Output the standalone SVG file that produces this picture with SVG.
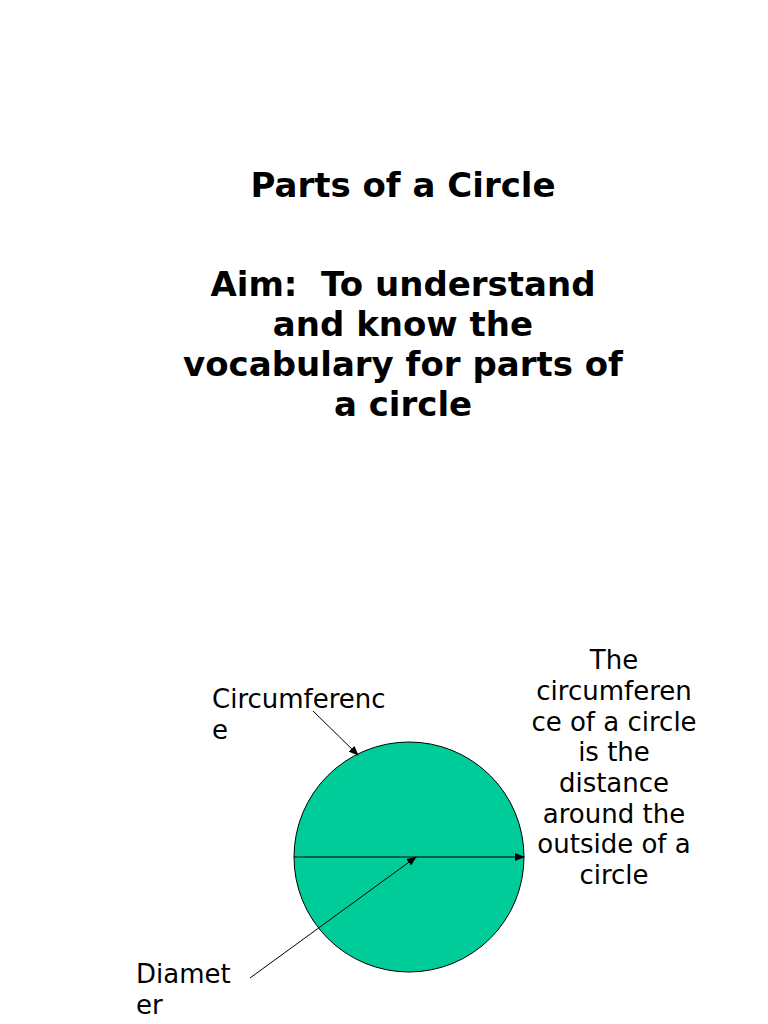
<svg xmlns="http://www.w3.org/2000/svg" width="768" height="1024" viewBox="0 0 768 1024">
<style>
.t{font-family:"DejaVu Sans",sans-serif;font-weight:bold;font-size:34px;fill:#000;text-anchor:middle;white-space:pre}
.l{font-family:"DejaVu Sans",sans-serif;font-size:26px;fill:#000}
.c{text-anchor:middle}
.ln{stroke:#000;stroke-width:1;fill:none}
</style>
<defs>
<marker id="a" markerWidth="10" markerHeight="8" refX="9" refY="4" orient="auto" markerUnits="userSpaceOnUse">
<path d="M0,0 L10,4 L0,8 Z" fill="#000"/>
</marker>
</defs>
<rect width="768" height="1024" fill="#fff"/>
<g id="title">
<text class="t" x="403" y="197">Parts of a Circle</text>
<text class="t" x="403" y="296" xml:space="preserve">Aim:  To understand</text>
<text class="t" x="403" y="336">and know the</text>
<text class="t" x="403" y="376">vocabulary for parts of</text>
<text class="t" x="403" y="416">a circle</text>
</g>
<g id="circle">
<circle cx="409" cy="857" r="115" fill="#00CC99" stroke="#000" stroke-width="1"/>
</g>
<g id="circumference-label">
<text class="l" x="212" y="708">Circumferenc</text>
<text class="l" x="212" y="739">e</text>
</g>
<g id="diameter-label">
<text class="l" x="136" y="983">Diamet</text>
<text class="l" x="136" y="1014">er</text>
</g>
<g id="description">
<text class="l c" x="614" y="669">The</text>
<text class="l c" x="614" y="700">circumferen</text>
<text class="l c" x="614" y="731">ce of a circle</text>
<text class="l c" x="614" y="761">is the</text>
<text class="l c" x="614" y="792">distance</text>
<text class="l c" x="614" y="823">around the</text>
<text class="l c" x="614" y="853">outside of a</text>
<text class="l c" x="614" y="884">circle</text>
</g>
<g id="connectors">
<line class="ln" x1="294" y1="857" x2="524" y2="857" marker-end="url(#a)"/>
<line class="ln" x1="313" y1="711" x2="358" y2="755" marker-end="url(#a)"/>
<line class="ln" x1="250" y1="978" x2="416" y2="857" marker-end="url(#a)"/>
</g>
</svg>
